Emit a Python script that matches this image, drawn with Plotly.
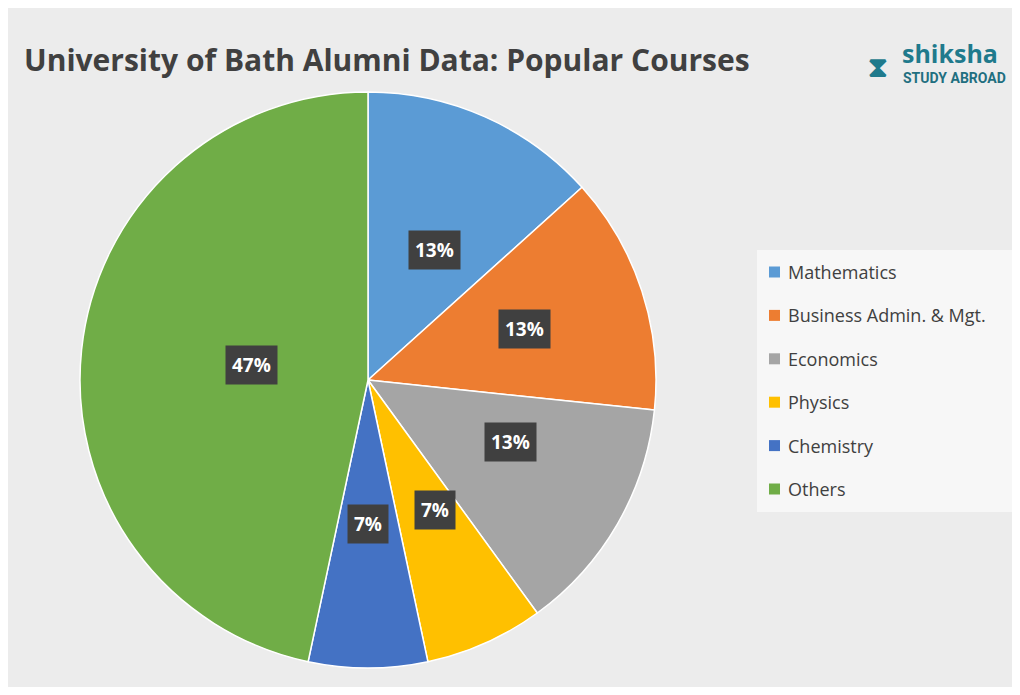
import plotly.graph_objects as go
import math

categories = ["Mathematics", "Business Admin. & Mgt.", "Economics", "Physics", "Chemistry", "Others"]
values = [2, 2, 2, 1, 1, 7]
colors = ["#5B9BD5", "#ED7D31", "#A5A5A5", "#FFC000", "#4472C4", "#70AD47"]

OFF = 8
W, H = 1020 - 2 * OFF, 695 - 2 * OFF
def X(px): return (px - OFF) / W
def Y(py): return 1 - (py - OFF) / H

cx, cy, R = 368, 380, 288

fig = go.Figure(go.Pie(
    labels=categories, values=values, sort=False, direction="clockwise", rotation=0,
    marker=dict(colors=colors, line=dict(color="white", width=1.5)),
    textinfo="none", hoverinfo="label+percent", showlegend=False,
    domain=dict(x=[X(cx - R), X(cx + R)], y=[Y(cy + R), Y(cy - R)]),
))

total = sum(values)
ann, shapes = [], []
cum = 0
for v in values:
    mid = (cum + v / 2) / total * 2 * math.pi
    cum += v
    r = 0.5 if v / total > 0.3 else 0.57
    px = cx + r * R * math.sin(mid)
    py = cy - r * R * math.cos(mid)
    ann.append(dict(x=X(px), y=Y(py), xref="paper", yref="paper",
                    text=f"<b>{round(100 * v / total)}%</b>", showarrow=False,
                    font=dict(family="Open Sans", size=19, color="white"),
                    bgcolor="#404040", borderpad=6))

# legend
shapes.append(dict(type="rect", xref="paper", yref="paper", x0=X(757), x1=X(1020), y0=Y(512), y1=Y(250),
                   fillcolor="#f7f7f7", line=dict(width=0), layer="below"))
for i, (c, col) in enumerate(zip(categories, colors)):
    yy = 272 + i * 43.4
    shapes.append(dict(type="rect", xref="paper", yref="paper", x0=X(769), x1=X(780),
                       y0=Y(yy + 5.5), y1=Y(yy - 5.5), fillcolor=col, line=dict(width=0)))
    ann.append(dict(x=X(786), y=Y(yy), xref="paper", yref="paper", xanchor="left", yanchor="middle",
                    text=c, showarrow=False, font=dict(family="Open Sans", size=18, color="#404040")))

ann.append(dict(x=X(22), y=Y(60), xref="paper", yref="paper", xanchor="left", yanchor="middle",
                text="<b>University of Bath Alumni Data: Popular Courses</b>", showarrow=False,
                font=dict(family="Open Sans", size=30, color="#404040")))
ann.append(dict(x=X(900), y=Y(53), xref="paper", yref="paper", xanchor="left", yanchor="middle",
                text="<b>shiksha</b>", showarrow=False,
                font=dict(family="Open Sans", size=25, color="#1f7a8c")))
ann.append(dict(x=X(901), y=Y(78), xref="paper", yref="paper", xanchor="left", yanchor="middle",
                text="<b>STUDY ABROAD</b>", showarrow=False,
                font=dict(family="Roboto", size=14, color="#1f6f80")))
ann.append(dict(x=X(890), y=Y(66), xref="paper", yref="paper", yanchor="middle",
                text="<b>⧗</b>", showarrow=False,
                font=dict(size=28, color="#1f7a8c")))

fig.update_layout(
    width=W, height=H, margin=dict(l=0, r=0, t=0, b=0),
    paper_bgcolor="#ececec",
    annotations=ann, shapes=shapes, showlegend=False,
)
fig.write_html("out.html")
